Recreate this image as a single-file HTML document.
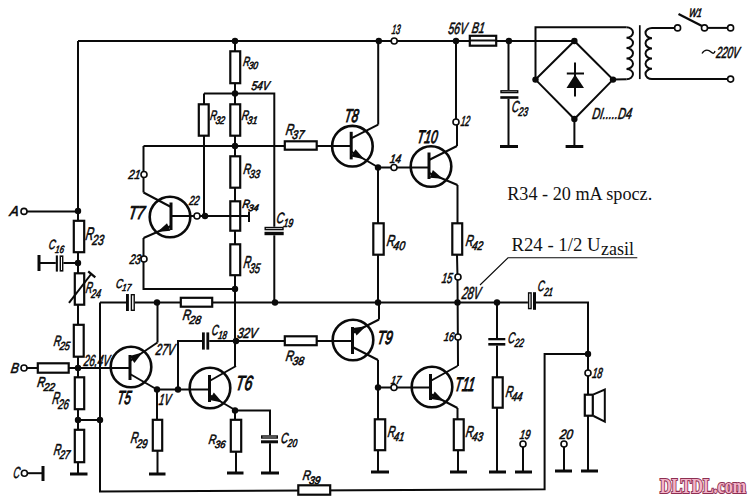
<!DOCTYPE html>
<html><head><meta charset="utf-8"><style>
html,body{margin:0;padding:0;background:#fff;width:751px;height:500px;overflow:hidden}
svg{display:block}
.w path{fill:none;stroke:#0a0a0a;stroke-width:2.0;stroke-linecap:butt;stroke-linejoin:miter}
.w .r{fill:#fff;stroke:#0a0a0a;stroke-width:2.2}
.w .d{fill:#0a0a0a;stroke:none}
.w path.d{fill:#0a0a0a;stroke:none}
.w .t{fill:#fff;stroke:#0a0a0a;stroke-width:1.6}
.w .tc{fill:none;stroke:#0a0a0a;stroke-width:2.6}
.lb text{font-family:"Liberation Sans",sans-serif;font-style:italic;font-weight:normal;fill:#0a0a0a;stroke:#0a0a0a;stroke-width:0.6}
.lb text.hv{stroke-width:0.95}
.ser{font-family:"Liberation Serif",serif;fill:#111}
</style></head><body>
<svg width="751" height="500" viewBox="0 0 751 500">
<rect width="751" height="500" fill="#fff"/>
<g class="w">
<path d="M78,41 L574.4,41"/>
<path d="M78,41 L78,221"/>
<path d="M24,211.4 L78,211.4"/>
<path d="M78,252 L78,273"/>
<path d="M39,263 L55.8,263 M63.4,263 L78,263"/>
<path d="M78,305 L78,325"/>
<path d="M78,357 L78,377"/>
<path d="M24,368 L37,368 M69,368 L130,368"/>
<path d="M78,409 L78,430"/>
<path d="M78,420 L100,420"/>
<path d="M78,462 L78,473"/>
<path d="M24,473.2 L43,473.2"/>
<path d="M100,302.5 L100,491.5 L544.6,489.2 L544.6,354 L588,354"/>
<path d="M100,302.5 L126,302.5 M134.9,302.5 L180.5,302.5 M212.5,302.5 L527.9,302.5"/>
<path d="M536,302.5 L588,302.5 L588,373"/>
<path d="M588,373 L588,394.5 M588,416 L588,471"/>
<path d="M564,444 L564,471"/>
<path d="M523,444 L523,472"/>
<path d="M497,302.5 L497,338 M497,345.6 L497,377 M497,408 L497,472"/>
<path d="M143.5,146 L284,146 M317,146 L351.2,146"/>
<path d="M143.5,146 L143.5,192.5"/>
<path d="M143.5,238 L143.5,289 L235,289"/>
<path d="M171,216 L229.5,216"/>
<path d="M235,41 L235,51 M235,83.5 L235,104 M235,136 L235,156 M235,188 L235,201 M235,231 L235,244 M235,275.5 L235,366"/>
<path d="M204,93.5 L274.3,93.5 L274.3,226.8 M274.3,235.2 L274.3,302.5"/>
<path d="M204,93.5 L204,104 M204,136 L204,216"/>
<path d="M157.5,342.5 L157.5,302.5"/>
<path d="M157,389.5 L209.5,389.5 M157,389.5 L157,419.5 M157.5,451 L157.5,474"/>
<path d="M178,389.5 L178,341 L202,341 M209.2,341 L284.5,341 M317,341 L352.5,341"/>
<path d="M235,410.5 L270,410.5 L270,435.3 M270,443.3 L270,473 M235,410.5 L235,419.5 M236,452 L236,473"/>
<path d="M378.2,124.6 L378.2,41"/>
<path d="M378,167.5 L429,167.5"/>
<path d="M378,167.5 L378,223 M378,255 L378,302.5"/>
<path d="M457,146 L457,122 L456,122 L456,41"/>
<path d="M457.5,185 L457.5,223 M457,255 L457.5,277 L458,366"/>
<path d="M379,319.5 L379,302.5"/>
<path d="M378,360 L378,419 M378,450.5 L378,472"/>
<path d="M378,387.5 L430.5,387.5"/>
<path d="M457.5,408 L457.5,419 M458,450.5 L458,472"/>
<path d="M508.5,41 L508.5,90.1 M508.5,98.8 L508.5,146.5"/>
<path d="M574.4,41 L613,79.6 L574.4,119 L535.5,79.6 Z"/>
<path d="M535.5,79.6 L535.5,27.3 L626.5,27.3"/>
<path d="M613,79.6 L626.5,79.3"/>
<path d="M575,62.4 L575,96.5 M566.8,73.5 L584,73.5"/>
<path class="d" d="M575,74.5 L566.5,88 L584,88 Z"/>
<path d="M574.4,119 L574.4,146.5"/>
<path d="M626.5,27.3 A6.5,5.20 0 0 1 626.5,37.70 A6.5,5.20 0 0 1 626.5,48.10 A6.5,5.20 0 0 1 626.5,58.50 A6.5,5.20 0 0 1 626.5,68.90 A6.5,5.20 0 0 1 626.5,79.30"/>
<path d="M639.8,25.2 L639.8,79.1" style="stroke-width:1.7"/>
<path d="M652,27.9 A6.5,5.12 0 0 0 652,38.14 A6.5,5.12 0 0 0 652,48.38 A6.5,5.12 0 0 0 652,58.62 A6.5,5.12 0 0 0 652,68.86 A6.5,5.12 0 0 0 652,79.10"/>
<path d="M652,27.9 L677.6,27.9 M652,79.1 L730.6,79.1"/>
<path d="M704.5,27.9 L730.6,27.9"/>
<path d="M678.5,14 L702,26" style="stroke-width:2.4"/>
<rect x="73.80" y="220.80" width="10.40" height="31.40" class="r"/>
<rect x="74.80" y="273.30" width="9.40" height="31.40" class="r"/>
<path d="M69,302.8 L91.2,274"/>
<path d="M88.2,271.3 L95.3,277.3" style="stroke-width:2.2"/>
<rect x="73.80" y="324.80" width="9.90" height="31.90" class="r"/>
<rect x="37.80" y="363.30" width="30.90" height="9.40" class="r"/>
<rect x="74.80" y="377.30" width="9.40" height="31.90" class="r"/>
<rect x="74.80" y="429.80" width="9.40" height="32.40" class="r"/>
<rect x="70" y="472.5" width="17.5" height="3.0" class="d"/>
<rect x="41.5" y="466" width="3" height="15" class="d"/>
<rect x="37.5" y="255" width="3" height="16" class="d"/>
<rect x="55.8" y="255.4" width="2.10" height="16.20" class="d"/>
<rect x="60.30" y="256.10" width="2.40" height="14.80" class="r" style="stroke-width:1.4"/>
<rect x="126" y="294" width="2.90" height="17.00" class="d"/>
<rect x="131.40" y="294.70" width="2.80" height="15.60" class="r" style="stroke-width:1.4"/>
<rect x="180.80" y="297.80" width="31.40" height="8.90" class="r"/>
<rect x="528.60" y="292.90" width="2.50" height="15.70" class="r" style="stroke-width:1.4"/>
<rect x="533" y="292.2" width="3.00" height="17.60" class="d"/>
<rect x="584.80" y="394.70" width="8.00" height="21.00" class="r"/>
<path d="M593.6,394.4 L604.8,389.6 L604.8,421.6 L593.6,416"/>
<rect x="581" y="469.5" width="17" height="3.0" class="d"/>
<rect x="555" y="469.5" width="17" height="3.0" class="d"/>
<rect x="515" y="470.5" width="17" height="3.0" class="d"/>
<rect x="488.3" y="338" width="17.00" height="2.30" class="d"/>
<rect x="488.3" y="343" width="17.00" height="2.60" class="d"/>
<rect x="492.80" y="377.30" width="9.90" height="30.40" class="r"/>
<rect x="489" y="470.5" width="17" height="3.0" class="d"/>
<circle cx="170" cy="217" r="20.3" class="tc"/>
<rect x="169.5" y="202.5" width="3" height="27.5" class="d"/>
<path d="M171,207 L143.5,192.5"/>
<path d="M171,226 L143.5,238"/>
<path class="d" d="M157.3,232.0 L167.0,223.2 L170.4,230.8 Z"/>
<rect x="230.30" y="51.30" width="9.90" height="31.90" class="r"/>
<rect x="198.80" y="104.30" width="9.90" height="31.40" class="r"/>
<rect x="230.30" y="104.30" width="9.90" height="31.40" class="r"/>
<rect x="230.30" y="156.30" width="9.90" height="31.40" class="r"/>
<rect x="230.30" y="201.30" width="9.90" height="29.40" class="r"/>
<rect x="230.30" y="244.30" width="9.90" height="30.90" class="r"/>
<path d="M229,216 L249,216"/>
<path d="M249,211.6 L249,222" style="stroke-width:2"/>
<rect x="265.20" y="227.50" width="17.80" height="2.10" class="r" style="stroke-width:1.4"/>
<rect x="264.5" y="231.8" width="19.20" height="3.40" class="d"/>
<rect x="284.80" y="141.30" width="31.90" height="8.40" class="r"/>
<circle cx="131" cy="367" r="20.3" class="tc"/>
<rect x="128.5" y="355" width="3" height="25" class="d"/>
<path d="M130,374 L157,389.5"/>
<path d="M130,361 L157.5,342.5"/>
<path class="d" d="M142.4,352.6 L134.4,363.1 L129.7,356.1 Z"/>
<rect x="152.80" y="419.80" width="9.40" height="30.90" class="r"/>
<rect x="149" y="472.5" width="16.5" height="3.0" class="d"/>
<rect x="202" y="332.4" width="2.80" height="17.20" class="d"/>
<rect x="206.4" y="332.4" width="2.80" height="17.20" class="d"/>
<rect x="284.80" y="336.30" width="31.90" height="8.90" class="r"/>
<circle cx="210" cy="388" r="20.3" class="tc"/>
<rect x="208.0" y="375" width="3" height="27" class="d"/>
<path d="M209.5,381 L236,366"/>
<path d="M209.5,395 L235,410"/>
<path class="d" d="M222.4,402.6 L209.5,399.9 L213.8,392.6 Z"/>
<rect x="230.80" y="419.80" width="10.40" height="31.90" class="r"/>
<rect x="227" y="471.5" width="16.5" height="3.0" class="d"/>
<rect x="261.70" y="436.00" width="15.60" height="2.00" class="r" style="stroke-width:1.4"/>
<rect x="261" y="440.3" width="17.00" height="3.00" class="d"/>
<rect x="261" y="471.5" width="18" height="3.0" class="d"/>
<rect x="298.30" y="485.30" width="31.90" height="9.40" class="r"/>
<circle cx="352.4" cy="146.2" r="20.3" class="tc"/>
<rect x="349.7" y="131.8" width="3" height="27.599999999999994" class="d"/>
<path d="M351.2,138.4 L378.2,124.6"/>
<path d="M351.2,151.6 L377.6,167"/>
<path class="d" d="M364.2,159.2 L351.2,156.5 L355.5,149.2 Z"/>
<rect x="373.30" y="223.30" width="10.40" height="31.40" class="r"/>
<circle cx="431" cy="166.5" r="20.3" class="tc"/>
<rect x="427.5" y="152.5" width="3" height="26.5" class="d"/>
<path d="M429,160 L457,146"/>
<path d="M429,173 L457.5,185"/>
<path class="d" d="M442.8,178.8 L429.7,177.8 L432.9,170.1 Z"/>
<rect x="452.30" y="223.30" width="9.90" height="31.40" class="r"/>
<circle cx="353" cy="340" r="20.3" class="tc"/>
<rect x="351.0" y="327" width="3" height="27" class="d"/>
<path d="M352.5,333 L379,319.5"/>
<path d="M352.5,347 L378,360"/>
<path class="d" d="M365.9,326.2 L356.6,335.6 L352.8,328.1 Z"/>
<rect x="374.80" y="419.30" width="10.40" height="30.90" class="r"/>
<rect x="371" y="470.5" width="18" height="3.0" class="d"/>
<circle cx="432" cy="387" r="20.3" class="tc"/>
<rect x="429.0" y="374" width="3" height="26" class="d"/>
<path d="M430.5,381 L457.5,366"/>
<path d="M430.5,394 L457.5,408"/>
<path class="d" d="M443.8,400.9 L430.8,398.9 L434.7,391.4 Z"/>
<rect x="453.80" y="419.30" width="9.90" height="30.90" class="r"/>
<rect x="450" y="470.5" width="17" height="3.0" class="d"/>
<rect x="469.80" y="35.80" width="26.40" height="9.90" class="r"/>
<path d="M469,40.5 L497,40.5"/>
<rect x="501.00" y="90.80" width="16.70" height="1.80" class="r" style="stroke-width:1.4"/>
<rect x="500.3" y="96.2" width="18.10" height="2.60" class="d"/>
<rect x="500" y="145.0" width="18" height="3.0" class="d"/>
<rect x="565.6" y="145.0" width="17.699999999999932" height="3.0" class="d"/>
<circle cx="78" cy="211" r="3.2" class="d"/>
<circle cx="78" cy="263" r="3.2" class="d"/>
<circle cx="78" cy="368" r="3.2" class="d"/>
<circle cx="78" cy="420" r="3.2" class="d"/>
<circle cx="100" cy="420" r="3.2" class="d"/>
<circle cx="157" cy="302.5" r="3.2" class="d"/>
<circle cx="275" cy="302.5" r="3.2" class="d"/>
<circle cx="378" cy="302.5" r="3.2" class="d"/>
<circle cx="457.5" cy="302.5" r="3.2" class="d"/>
<circle cx="497" cy="302.5" r="3.2" class="d"/>
<circle cx="588" cy="354" r="3.2" class="d"/>
<circle cx="235" cy="146" r="3.2" class="d"/>
<circle cx="205" cy="216" r="3.2" class="d"/>
<circle cx="235" cy="289" r="3.2" class="d"/>
<circle cx="235" cy="41" r="3.2" class="d"/>
<circle cx="235" cy="93.5" r="3.2" class="d"/>
<circle cx="378.8" cy="41" r="3.2" class="d"/>
<circle cx="456" cy="41" r="3.2" class="d"/>
<circle cx="508.9" cy="41" r="3.2" class="d"/>
<circle cx="574.4" cy="41" r="3.2" class="d"/>
<circle cx="535.5" cy="79.6" r="3.2" class="d"/>
<circle cx="613" cy="79.6" r="3.2" class="d"/>
<circle cx="574.4" cy="119" r="3.2" class="d"/>
<circle cx="157" cy="389.5" r="3.2" class="d"/>
<circle cx="178" cy="389.5" r="3.2" class="d"/>
<circle cx="236" cy="341" r="3.2" class="d"/>
<circle cx="235" cy="410.5" r="3.2" class="d"/>
<circle cx="378" cy="167.5" r="3.2" class="d"/>
<circle cx="378" cy="387.5" r="3.2" class="d"/>
<circle cx="24" cy="211.4" r="3.0" class="t"/>
<circle cx="24" cy="368" r="3.0" class="t"/>
<circle cx="24.4" cy="473.2" r="3.0" class="t"/>
<circle cx="394.2" cy="41" r="3.0" class="t"/>
<circle cx="456" cy="122" r="3.0" class="t"/>
<circle cx="144" cy="174.5" r="3.0" class="t"/>
<circle cx="197" cy="216" r="3.0" class="t"/>
<circle cx="144" cy="259" r="3.0" class="t"/>
<circle cx="394" cy="167.5" r="3.0" class="t"/>
<circle cx="458" cy="277" r="3.0" class="t"/>
<circle cx="458" cy="337" r="3.0" class="t"/>
<circle cx="394" cy="387.5" r="3.0" class="t"/>
<circle cx="588" cy="373" r="3.0" class="t"/>
<circle cx="564" cy="444" r="3.0" class="t"/>
<circle cx="523" cy="444" r="3.0" class="t"/>
<circle cx="677.6" cy="27.9" r="3.0" class="t"/>
<circle cx="704.5" cy="27.9" r="3.0" class="t"/>
<circle cx="730.6" cy="27.9" r="3.0" class="t"/>
<circle cx="730.6" cy="79.1" r="3.0" class="t"/>
<path d="M702,53.5 C705,48.5 709,50 711,52 C713,54 714.5,53.5 715,51" style="stroke-width:1.3"/>
<path d="M480,285 L508,257.8 L637.3,257.8" style="stroke-width:1.1"/>
</g>
<g class="lb">
<text transform="translate(391.35,34.30) skewX(-9)" x="0" y="0" font-size="13.48" textLength="8.50" lengthAdjust="spacingAndGlyphs">13</text>
<text transform="translate(447.72,34.20) skewX(-9)" x="0" y="0" font-size="16.23" textLength="18.70" lengthAdjust="spacingAndGlyphs">56V</text>
<text transform="translate(471.26,32.60) skewX(-9)" x="0" y="0" font-size="15.36" textLength="12.70" lengthAdjust="spacingAndGlyphs">B1</text>
<text transform="translate(460.30,126.00) skewX(-9)" x="0" y="0" font-size="14.49" textLength="9.00" lengthAdjust="spacingAndGlyphs">12</text>
<text transform="translate(511.23,111.91) skewX(-9)" x="0" y="0" font-size="15.95" textLength="7.20" lengthAdjust="spacingAndGlyphs">C</text>
<text transform="translate(518.11,116.40) skewX(-9)" x="0" y="0" font-size="12.58" textLength="9.28" lengthAdjust="spacingAndGlyphs">23</text>
<text transform="translate(591.73,119.00) skewX(-9)" x="0" y="0" font-size="15.94" textLength="39.50" lengthAdjust="spacingAndGlyphs">DI.....D4</text>
<text transform="translate(688.40,16.50) skewX(-9)" x="0" y="0" font-size="12.32" textLength="13.00" lengthAdjust="spacingAndGlyphs">W1</text>
<text transform="translate(715.73,57.60) skewX(-9)" x="0" y="0" font-size="16.00" textLength="23.20" lengthAdjust="spacingAndGlyphs">220V</text>
<text transform="translate(242.86,65.66) skewX(-9)" x="0" y="0" font-size="13.27" textLength="6.53" lengthAdjust="spacingAndGlyphs">R</text>
<text transform="translate(248.21,69.40) skewX(-9)" x="0" y="0" font-size="10.47" textLength="9.28" lengthAdjust="spacingAndGlyphs">30</text>
<text transform="translate(250.89,90.40) skewX(-9)" x="0" y="0" font-size="12.61" textLength="18.10" lengthAdjust="spacingAndGlyphs">54V</text>
<text transform="translate(209.83,120.48) skewX(-9)" x="0" y="0" font-size="13.89" textLength="6.53" lengthAdjust="spacingAndGlyphs">R</text>
<text transform="translate(215.19,124.40) skewX(-9)" x="0" y="0" font-size="10.96" textLength="9.28" lengthAdjust="spacingAndGlyphs">32</text>
<text transform="translate(241.33,120.48) skewX(-9)" x="0" y="0" font-size="13.89" textLength="6.98" lengthAdjust="spacingAndGlyphs">R</text>
<text transform="translate(247.05,124.40) skewX(-9)" x="0" y="0" font-size="10.96" textLength="9.92" lengthAdjust="spacingAndGlyphs">31</text>
<text transform="translate(243.04,173.77) skewX(-9)" x="0" y="0" font-size="14.66" textLength="7.31" lengthAdjust="spacingAndGlyphs">R</text>
<text transform="translate(249.04,177.90) skewX(-9)" x="0" y="0" font-size="11.57" textLength="10.40" lengthAdjust="spacingAndGlyphs">33</text>
<text transform="translate(241.93,208.06) skewX(-9)" x="0" y="0" font-size="11.83" textLength="7.31" lengthAdjust="spacingAndGlyphs">R</text>
<text transform="translate(247.90,211.40) skewX(-9)" x="0" y="0" font-size="9.33" textLength="10.40" lengthAdjust="spacingAndGlyphs">34</text>
<text transform="translate(242.91,267.97) skewX(-9)" x="0" y="0" font-size="17.49" textLength="7.31" lengthAdjust="spacingAndGlyphs">R</text>
<text transform="translate(248.93,272.90) skewX(-9)" x="0" y="0" font-size="13.80" textLength="10.40" lengthAdjust="spacingAndGlyphs">35</text>
<text transform="translate(275.98,222.50) skewX(-9)" x="0" y="0" font-size="14.92" textLength="7.42" lengthAdjust="spacingAndGlyphs">C</text>
<text transform="translate(283.06,226.70) skewX(-9)" x="0" y="0" font-size="11.77" textLength="9.57" lengthAdjust="spacingAndGlyphs">19</text>
<text transform="translate(128.12,179.00) skewX(-9)" x="0" y="0" font-size="13.04" textLength="11.75" lengthAdjust="spacingAndGlyphs">21</text>
<text transform="translate(188.87,205.00) skewX(-9)" x="0" y="0" font-size="13.04" textLength="10.00" lengthAdjust="spacingAndGlyphs">22</text>
<text class="hv" transform="translate(127.91,219.20) skewX(-9)" x="0" y="0" font-size="18.41" textLength="16.00" lengthAdjust="spacingAndGlyphs">T7</text>
<text transform="translate(129.34,264.00) skewX(-9)" x="0" y="0" font-size="13.77" textLength="11.00" lengthAdjust="spacingAndGlyphs">23</text>
<text transform="translate(9.30,216.00) skewX(-9)" x="0" y="0" font-size="14.49" textLength="9.00" lengthAdjust="spacingAndGlyphs">A</text>
<text transform="translate(85.11,240.18) skewX(-9)" x="0" y="0" font-size="18.52" textLength="8.10" lengthAdjust="spacingAndGlyphs">R</text>
<text transform="translate(91.77,245.40) skewX(-9)" x="0" y="0" font-size="14.61" textLength="11.52" lengthAdjust="spacingAndGlyphs">23</text>
<text transform="translate(48.35,249.13) skewX(-9)" x="0" y="0" font-size="13.38" textLength="6.75" lengthAdjust="spacingAndGlyphs">C</text>
<text transform="translate(54.79,252.90) skewX(-9)" x="0" y="0" font-size="10.55" textLength="8.70" lengthAdjust="spacingAndGlyphs">16</text>
<text transform="translate(85.23,293.40) skewX(-9)" x="0" y="0" font-size="15.95" textLength="6.75" lengthAdjust="spacingAndGlyphs">R</text>
<text transform="translate(90.79,297.90) skewX(-9)" x="0" y="0" font-size="12.58" textLength="9.60" lengthAdjust="spacingAndGlyphs">24</text>
<text transform="translate(115.38,287.77) skewX(-9)" x="0" y="0" font-size="12.86" textLength="6.75" lengthAdjust="spacingAndGlyphs">C</text>
<text transform="translate(121.81,291.40) skewX(-9)" x="0" y="0" font-size="10.14" textLength="8.70" lengthAdjust="spacingAndGlyphs">17</text>
<text transform="translate(182.28,320.19) skewX(-9)" x="0" y="0" font-size="14.92" textLength="8.10" lengthAdjust="spacingAndGlyphs">R</text>
<text transform="translate(188.91,324.40) skewX(-9)" x="0" y="0" font-size="11.77" textLength="11.52" lengthAdjust="spacingAndGlyphs">28</text>
<text transform="translate(53.28,346.19) skewX(-9)" x="0" y="0" font-size="14.92" textLength="7.20" lengthAdjust="spacingAndGlyphs">R</text>
<text transform="translate(59.19,350.40) skewX(-9)" x="0" y="0" font-size="11.77" textLength="10.24" lengthAdjust="spacingAndGlyphs">25</text>
<text transform="translate(83.23,366.00) skewX(-9)" x="0" y="0" font-size="15.94" textLength="26.00" lengthAdjust="spacingAndGlyphs">26,4V</text>
<text transform="translate(36.80,387.34) skewX(-9)" x="0" y="0" font-size="14.41" textLength="7.88" lengthAdjust="spacingAndGlyphs">R</text>
<text transform="translate(43.25,391.40) skewX(-9)" x="0" y="0" font-size="11.36" textLength="11.20" lengthAdjust="spacingAndGlyphs">22</text>
<text transform="translate(51.66,404.47) skewX(-9)" x="0" y="0" font-size="17.49" textLength="7.42" lengthAdjust="spacingAndGlyphs">R</text>
<text transform="translate(57.77,409.40) skewX(-9)" x="0" y="0" font-size="13.80" textLength="10.56" lengthAdjust="spacingAndGlyphs">26</text>
<text class="hv" transform="translate(116.59,404.00) skewX(-9)" x="0" y="0" font-size="18.84" textLength="13.50" lengthAdjust="spacingAndGlyphs">T5</text>
<text transform="translate(155.23,355.00) skewX(-9)" x="0" y="0" font-size="15.94" textLength="19.00" lengthAdjust="spacingAndGlyphs">27V</text>
<text transform="translate(158.23,405.00) skewX(-9)" x="0" y="0" font-size="15.94" textLength="12.00" lengthAdjust="spacingAndGlyphs">1V</text>
<text transform="translate(53.23,454.90) skewX(-9)" x="0" y="0" font-size="15.95" textLength="7.20" lengthAdjust="spacingAndGlyphs">R</text>
<text transform="translate(59.15,459.40) skewX(-9)" x="0" y="0" font-size="12.58" textLength="10.24" lengthAdjust="spacingAndGlyphs">27</text>
<text transform="translate(12.73,478.00) skewX(-9)" x="0" y="0" font-size="15.94" textLength="6.50" lengthAdjust="spacingAndGlyphs">C</text>
<text transform="translate(10.30,372.50) skewX(-9)" x="0" y="0" font-size="14.49" textLength="8.00" lengthAdjust="spacingAndGlyphs">B</text>
<text transform="translate(130.23,443.40) skewX(-9)" x="0" y="0" font-size="15.95" textLength="7.42" lengthAdjust="spacingAndGlyphs">R</text>
<text transform="translate(136.33,447.90) skewX(-9)" x="0" y="0" font-size="12.58" textLength="10.56" lengthAdjust="spacingAndGlyphs">29</text>
<text transform="translate(211.30,335.11) skewX(-9)" x="0" y="0" font-size="14.51" textLength="6.66" lengthAdjust="spacingAndGlyphs">C</text>
<text transform="translate(217.66,339.20) skewX(-9)" x="0" y="0" font-size="11.44" textLength="8.58" lengthAdjust="spacingAndGlyphs">18</text>
<text transform="translate(236.80,337.50) skewX(-9)" x="0" y="0" font-size="14.49" textLength="20.00" lengthAdjust="spacingAndGlyphs">32V</text>
<text transform="translate(285.28,361.19) skewX(-9)" x="0" y="0" font-size="14.92" textLength="8.10" lengthAdjust="spacingAndGlyphs">R</text>
<text transform="translate(291.91,365.40) skewX(-9)" x="0" y="0" font-size="11.77" textLength="11.52" lengthAdjust="spacingAndGlyphs">38</text>
<text class="hv" transform="translate(235.02,390.00) skewX(-9)" x="0" y="0" font-size="20.29" textLength="16.50" lengthAdjust="spacingAndGlyphs">T6</text>
<text transform="translate(208.35,444.13) skewX(-9)" x="0" y="0" font-size="13.38" textLength="7.42" lengthAdjust="spacingAndGlyphs">R</text>
<text transform="translate(214.43,447.90) skewX(-9)" x="0" y="0" font-size="10.55" textLength="10.56" lengthAdjust="spacingAndGlyphs">36</text>
<text transform="translate(280.60,443.11) skewX(-9)" x="0" y="0" font-size="14.51" textLength="7.06" lengthAdjust="spacingAndGlyphs">C</text>
<text transform="translate(287.34,447.20) skewX(-9)" x="0" y="0" font-size="11.44" textLength="9.11" lengthAdjust="spacingAndGlyphs">20</text>
<text transform="translate(302.33,480.48) skewX(-9)" x="0" y="0" font-size="13.89" textLength="7.88" lengthAdjust="spacingAndGlyphs">R</text>
<text transform="translate(308.77,484.40) skewX(-9)" x="0" y="0" font-size="10.96" textLength="11.20" lengthAdjust="spacingAndGlyphs">39</text>
<text transform="translate(285.23,134.91) skewX(-9)" x="0" y="0" font-size="15.95" textLength="8.10" lengthAdjust="spacingAndGlyphs">R</text>
<text transform="translate(291.87,139.40) skewX(-9)" x="0" y="0" font-size="12.58" textLength="11.52" lengthAdjust="spacingAndGlyphs">37</text>
<text class="hv" transform="translate(343.81,121.70) skewX(-9)" x="0" y="0" font-size="18.41" textLength="13.90" lengthAdjust="spacingAndGlyphs">T8</text>
<text transform="translate(389.40,162.50) skewX(-9)" x="0" y="0" font-size="12.32" textLength="11.00" lengthAdjust="spacingAndGlyphs">14</text>
<text class="hv" transform="translate(416.62,142.50) skewX(-9)" x="0" y="0" font-size="18.12" textLength="20.00" lengthAdjust="spacingAndGlyphs">T10</text>
<text transform="translate(386.23,245.91) skewX(-9)" x="0" y="0" font-size="15.95" textLength="8.10" lengthAdjust="spacingAndGlyphs">R</text>
<text transform="translate(392.87,250.40) skewX(-9)" x="0" y="0" font-size="12.58" textLength="11.52" lengthAdjust="spacingAndGlyphs">40</text>
<text transform="translate(465.23,245.91) skewX(-9)" x="0" y="0" font-size="15.95" textLength="7.65" lengthAdjust="spacingAndGlyphs">R</text>
<text transform="translate(471.51,250.40) skewX(-9)" x="0" y="0" font-size="12.58" textLength="10.88" lengthAdjust="spacingAndGlyphs">42</text>
<text transform="translate(441.30,282.50) skewX(-9)" x="0" y="0" font-size="14.49" textLength="10.50" lengthAdjust="spacingAndGlyphs">15</text>
<text transform="translate(461.16,299.00) skewX(-9)" x="0" y="0" font-size="17.39" textLength="19.00" lengthAdjust="spacingAndGlyphs">28V</text>
<text transform="translate(537.37,291.47) skewX(-9)" x="0" y="0" font-size="15.02" textLength="6.57" lengthAdjust="spacingAndGlyphs">C</text>
<text transform="translate(543.66,295.70) skewX(-9)" x="0" y="0" font-size="11.85" textLength="8.47" lengthAdjust="spacingAndGlyphs">21</text>
<text transform="translate(507.56,342.61) skewX(-9)" x="0" y="0" font-size="15.23" textLength="6.93" lengthAdjust="spacingAndGlyphs">C</text>
<text transform="translate(514.19,346.90) skewX(-9)" x="0" y="0" font-size="12.01" textLength="8.93" lengthAdjust="spacingAndGlyphs">22</text>
<text transform="translate(443.40,341.00) skewX(-9)" x="0" y="0" font-size="12.32" textLength="10.00" lengthAdjust="spacingAndGlyphs">16</text>
<text transform="translate(591.80,377.50) skewX(-9)" x="0" y="0" font-size="14.49" textLength="10.00" lengthAdjust="spacingAndGlyphs">18</text>
<text class="hv" transform="translate(376.59,344.00) skewX(-9)" x="0" y="0" font-size="18.84" textLength="15.00" lengthAdjust="spacingAndGlyphs">T9</text>
<text transform="translate(390.44,384.00) skewX(-9)" x="0" y="0" font-size="11.59" textLength="10.00" lengthAdjust="spacingAndGlyphs">17</text>
<text class="hv" transform="translate(454.06,391.00) skewX(-9)" x="0" y="0" font-size="19.57" textLength="20.00" lengthAdjust="spacingAndGlyphs">T11</text>
<text transform="translate(387.23,436.90) skewX(-9)" x="0" y="0" font-size="15.95" textLength="7.42" lengthAdjust="spacingAndGlyphs">R</text>
<text transform="translate(393.33,441.40) skewX(-9)" x="0" y="0" font-size="12.58" textLength="10.56" lengthAdjust="spacingAndGlyphs">41</text>
<text transform="translate(465.23,436.90) skewX(-9)" x="0" y="0" font-size="15.95" textLength="7.65" lengthAdjust="spacingAndGlyphs">R</text>
<text transform="translate(471.51,441.40) skewX(-9)" x="0" y="0" font-size="12.58" textLength="10.88" lengthAdjust="spacingAndGlyphs">43</text>
<text transform="translate(505.23,396.90) skewX(-9)" x="0" y="0" font-size="15.95" textLength="7.42" lengthAdjust="spacingAndGlyphs">R</text>
<text transform="translate(511.33,401.40) skewX(-9)" x="0" y="0" font-size="12.58" textLength="10.56" lengthAdjust="spacingAndGlyphs">44</text>
<text transform="translate(519.37,439.00) skewX(-9)" x="0" y="0" font-size="13.04" textLength="10.50" lengthAdjust="spacingAndGlyphs">19</text>
<text transform="translate(559.34,439.00) skewX(-9)" x="0" y="0" font-size="13.62" textLength="13.00" lengthAdjust="spacingAndGlyphs">20</text>
</g>
<text class="ser" x="507.2" y="199.9" font-size="18" textLength="145" lengthAdjust="spacingAndGlyphs">R34 - 20 mA spocz.</text>
<text class="ser" x="511.5" y="251" font-size="18" textLength="89" lengthAdjust="spacingAndGlyphs">R24 - 1/2 U</text>
<text class="ser" x="601" y="254.8" font-size="18" textLength="33" lengthAdjust="spacingAndGlyphs">zasil</text>
<text x="660" y="493" font-family="Liberation Serif,serif" font-weight="bold" font-size="21" textLength="86" lengthAdjust="spacingAndGlyphs" fill="#f4b4c8" stroke="#8c2f52" stroke-width="2.2" style="paint-order:stroke fill">DLTDL.com</text>
</svg>
</body></html>
